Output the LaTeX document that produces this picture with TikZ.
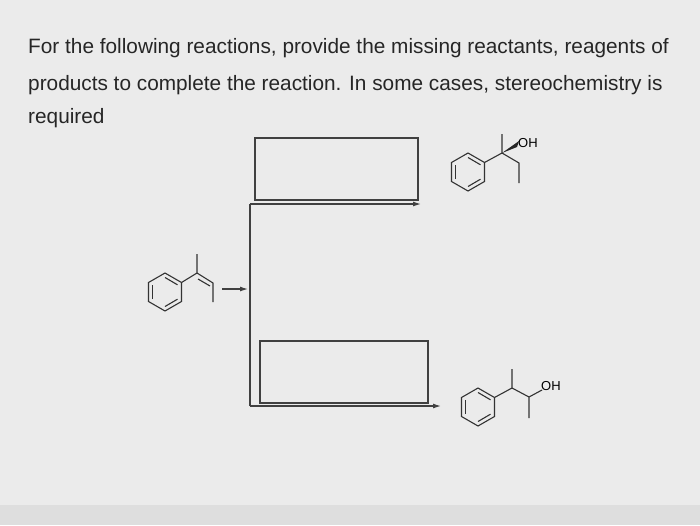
\documentclass[tikz,border=0pt]{standalone}
\usepackage{fontspec}
\setmainfont{Liberation Sans}
\usetikzlibrary{arrows.meta}
\begin{document}
\begin{tikzpicture}[x=1pt,y=-1pt,
  bond/.style={line width=1.1pt,draw=black!80},
  box/.style={draw=black!75,line width=1.2pt},
  rx/.style={line width=1.2pt,draw=black!75,-{Latex[length=8pt,width=5pt]}},
  txt/.style={anchor=west,font=\fontsize{20.8pt}{24pt}\selectfont,text=black!85,inner sep=0}]
\fill[black!8] (0,0) rectangle (700,525);
\fill[black!13] (0,505) rectangle (700,525);
\useasboundingbox (0,0) rectangle (700,525);
\node[txt] (t1) at (28,48) {For the following reactions, provide the missing reactants, reagents of};
\node[txt] (t2) at (28,85) {products to complete the reaction. In some cases, stereochemistry is};
\node[txt] (t3) at (28,118) {required};
\newcommand{\benz}[2]{%
 \draw[bond] (#1+0,#2-19) -- (#1+16.5,#2-9.5) -- (#1+16.5,#2+9.5) -- (#1+0,#2+19) -- (#1-16.5,#2+9.5) -- (#1-16.5,#2-9.5) -- cycle;
 \draw[bond] (#1+0,#2-14.5) -- (#1+12.5,#2-7.2);
 \draw[bond] (#1+12.5,#2+7.2) -- (#1+0,#2+14.5);
 \draw[bond] (#1-12.5,#2+7.2) -- (#1-12.5,#2-7.2);}
% molecule 1
\benz{468}{172}
\coordinate (q1) at (502,153);
\draw[bond] (484.5,162.5) -- (q1) -- (502,134);
\draw[bond] (q1) -- (519,163) -- (519,183);
\fill[black!85] (q1) -- (519,141) -- (517,147) -- cycle;
\node[font=\fontsize{13pt}{14pt}\selectfont,inner sep=0,anchor=west] (oh1) at (518,143) {OH};
% molecule 2
\benz{165}{292}
\coordinate (q2) at (197,273);
\draw[bond] (181.5,282.5) -- (q2) -- (197,254);
\draw[bond] (q2) -- (213,283) -- (213,302);
\draw[bond] (198,279) -- (210,286);
\coordinate (a0) at (222,289);
\coordinate (a1) at (248,289);
\draw[rx] (a0) -- (a1);
% molecule 3
\benz{478}{407}
\coordinate (q3) at (512,388);
\draw[bond] (494.5,397.5) -- (q3) -- (512,369);
\draw[bond] (q3) -- (529,397) -- (529,418);
\draw[bond] (529,397) -- (542,390);
\node[font=\fontsize{13pt}{14pt}\selectfont,inner sep=0,anchor=west] (oh3) at (541,386) {OH};
% boxes
\draw[box] (255,138) rectangle (418,200);
\draw[box] (260,341) rectangle (428,403);
\coordinate (v0) at (250,204);
\coordinate (v1) at (250,406);
\coordinate (e1) at (421,204);
\coordinate (e2) at (441,406);
\draw[box] (v1) -- (v0);
\draw[rx] (v0) -- (e1);
\draw[rx] (v1) -- (e2);
\end{tikzpicture}
\end{document}
